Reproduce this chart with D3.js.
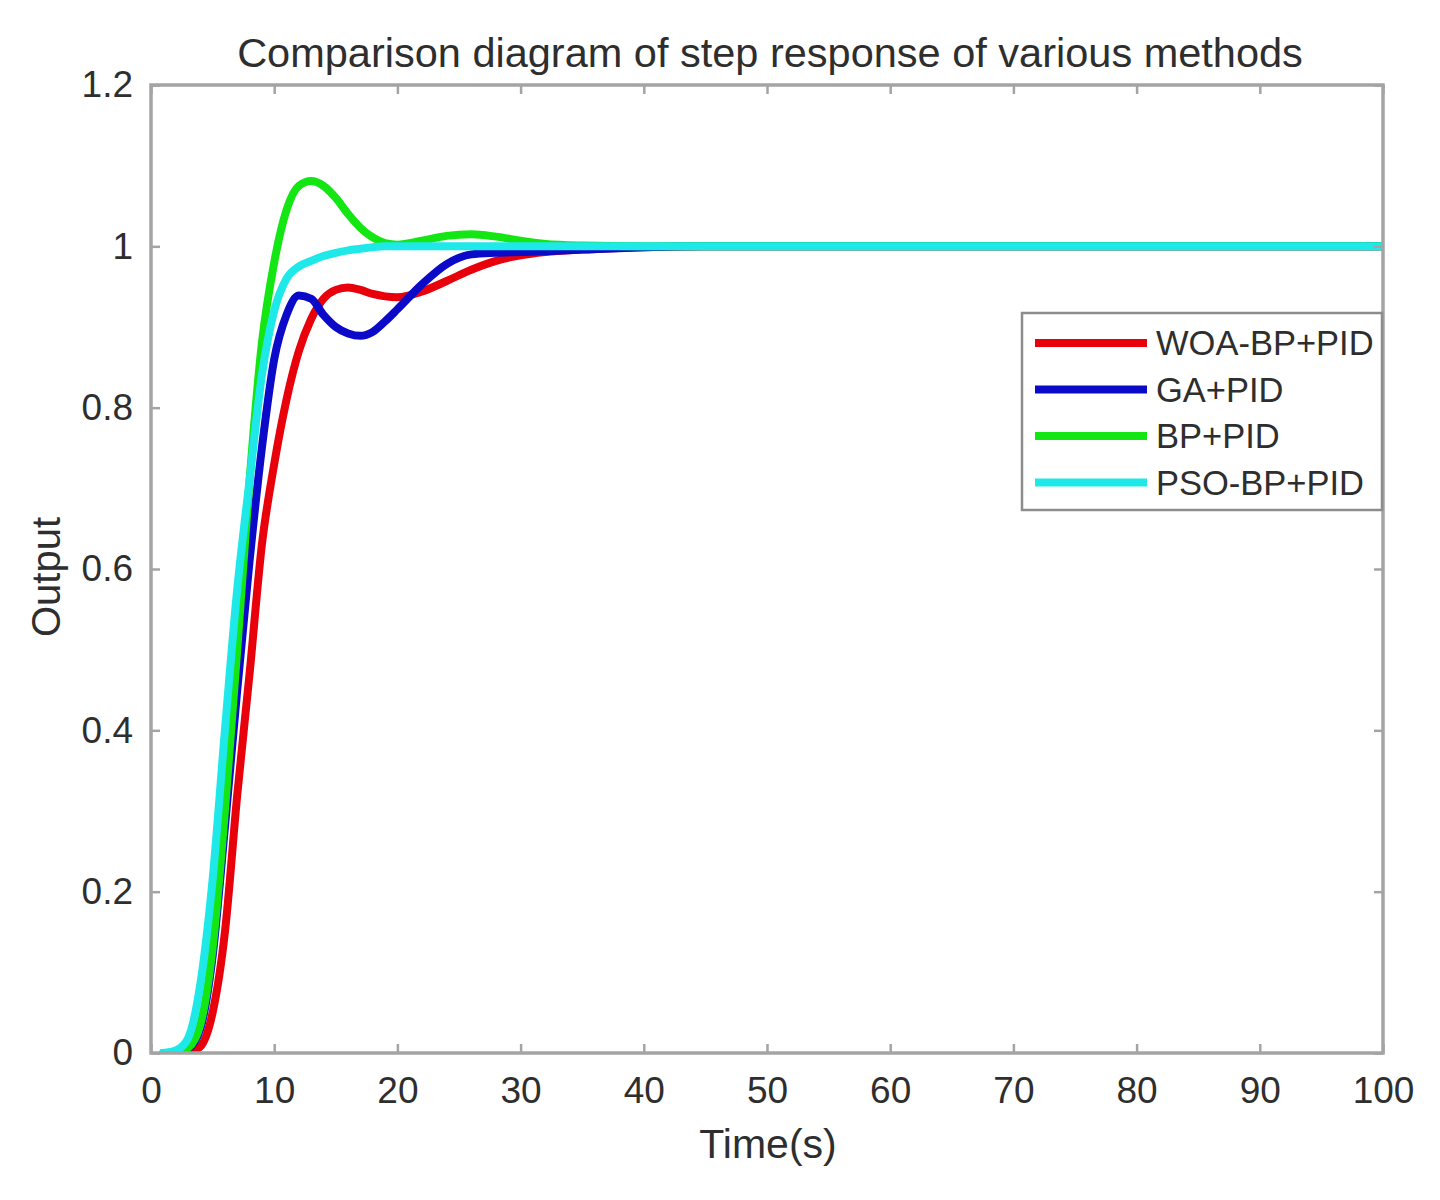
<!DOCTYPE html>
<html>
<head>
<meta charset="utf-8">
<script src="https://cdn.jsdelivr.net/npm/d3@7"></script>
<style>
  body { margin: 0; background: #fff; }
  svg { display: block; }
</style>
</head>
<body>
<div id="chart"></div>
<script>
// time grid (s)
const time = [1, 2, 3, 4, 5, 6, 7, 8, 9, 10, 11, 12, 13, 14, 15, 16, 17, 18, 19, 20,
  22, 24, 26, 28, 30, 32, 35, 40, 45, 50, 60, 70, 80, 90, 100];

const woaBp = [0, 0, 0.001, 0.008, 0.05, 0.15, 0.32, 0.47, 0.63, 0.73, 0.81, 0.87, 0.91, 0.935, 0.946, 0.949, 0.946, 0.941, 0.938, 0.937,
  0.944, 0.957, 0.971, 0.982, 0.989, 0.993, 0.996, 0.999, 1, 1, 1, 1, 1, 1, 1];
const ga = [0, 0, 0.005, 0.03, 0.12, 0.28, 0.45, 0.61, 0.75, 0.86, 0.915, 0.939, 0.935, 0.915, 0.9, 0.892, 0.889, 0.894, 0.907, 0.922,
  0.953, 0.978, 0.99, 0.992, 0.993, 0.994, 0.996, 0.999, 1, 1, 1, 1, 1, 1, 1];
const bp = [0, 0, 0.006, 0.035, 0.13, 0.3, 0.5, 0.71, 0.88, 0.98, 1.045, 1.075, 1.081, 1.075, 1.06, 1.04, 1.023, 1.011, 1.004, 1.002,
  1.007, 1.013, 1.015, 1.012, 1.007, 1.003, 1.001, 1, 1, 1, 1, 1, 1, 1, 1];
const psoBp = [0, 0.003, 0.018, 0.085, 0.215, 0.4, 0.575, 0.71, 0.84, 0.92, 0.96, 0.975, 0.982, 0.988, 0.992, 0.995, 0.997, 0.999, 1, 1,
  1, 1, 1, 1, 1, 1, 1, 1, 1, 1, 1, 1, 1, 1, 1];

const seriesNames = ["WOA-BP+PID", "GA+PID", "BP+PID", "PSO-BP+PID"];
const seriesColors = ["#e8000b", "#0a0ac8", "#14e614", "#1ee8e8"];
const seriesValues = [woaBp, ga, bp, psoBp];

const xTicks = [0, 10, 20, 30, 40, 50, 60, 70, 80, 90, 100];
const yTicks = [0, 0.2, 0.4, 0.6, 0.8, 1, 1.2];

const W = 1440, H = 1200;
const m = { left: 151, right: 57, top: 85, bottom: 147 };
const font = "'Liberation Sans', Arial, sans-serif";
const textColor = "#2e2e2e";
const frameColor = "#a4a4a4";

const svg = d3.select("#chart").append("svg")
  .attr("width", W).attr("height", H)
  .attr("viewBox", `0 0 ${W} ${H}`);
svg.append("rect").attr("width", W).attr("height", H).attr("fill", "#fff");

const x = d3.scaleLinear().domain([0, 100]).range([m.left, W - m.right]);
const y = d3.scaleLinear().domain([0, 1.2]).range([H - m.bottom, m.top]);

svg.append("clipPath").attr("id", "plot")
  .append("rect")
  .attr("x", m.left).attr("y", m.top)
  .attr("width", W - m.left - m.right).attr("height", H - m.top - m.bottom);

// lines
const line = d3.line()
  .x(d => x(d[0]))
  .y(d => y(d[1]))
  .curve(d3.curveMonotoneX);

const lines = svg.append("g").attr("clip-path", "url(#plot)");
seriesValues.forEach((vals, i) => {
  lines.append("path")
    .datum(time.map((t, j) => [t, vals[j]]))
    .attr("d", line)
    .attr("fill", "none")
    .attr("stroke", seriesColors[i])
    .attr("stroke-width", 8)
    .attr("stroke-linejoin", "round")
    .attr("stroke-linecap", "round");
});

// axes (ticks inward on all four sides, MATLAB box style)
function styleAxis(g, showLabels) {
  g.select(".domain").remove();
  g.selectAll(".tick line").attr("stroke", frameColor).attr("stroke-width", 2.5);
  g.selectAll(".tick text")
    .attr("fill", textColor)
    .style("font-family", font)
    .style("font-size", "37px");
  if (!showLabels) g.selectAll(".tick text").remove();
}

svg.append("g")
  .attr("transform", `translate(0,${H - m.bottom})`)
  .call(d3.axisBottom(x).tickValues(xTicks).tickSizeInner(-9).tickSizeOuter(0).tickPadding(24).tickFormat(d3.format("d")))
  .call(g => styleAxis(g, true));

svg.append("g")
  .attr("transform", `translate(0,${m.top})`)
  .call(d3.axisTop(x).tickValues(xTicks).tickSizeInner(-9).tickSizeOuter(0))
  .call(g => styleAxis(g, false));

svg.append("g")
  .attr("transform", `translate(${m.left},0)`)
  .call(d3.axisLeft(y).tickValues(yTicks).tickSizeInner(-9).tickSizeOuter(0).tickPadding(18).tickFormat(d => d3.format("~g")(d)))
  .call(g => styleAxis(g, true));

svg.append("g")
  .attr("transform", `translate(${W - m.right},0)`)
  .call(d3.axisRight(y).tickValues(yTicks).tickSizeInner(-9).tickSizeOuter(0))
  .call(g => styleAxis(g, false));

// frame
svg.append("rect")
  .attr("x", m.left).attr("y", m.top)
  .attr("width", W - m.left - m.right).attr("height", H - m.top - m.bottom)
  .attr("fill", "none")
  .attr("stroke", frameColor)
  .attr("stroke-width", 3.5);

// title and axis labels
svg.append("text")
  .attr("x", 770).attr("y", 67)
  .attr("text-anchor", "middle")
  .attr("fill", textColor)
  .style("font-family", font).style("font-size", "41.5px")
  .text("Comparison diagram of step response of various methods");

svg.append("text")
  .attr("x", 768).attr("y", 1158)
  .attr("text-anchor", "middle")
  .attr("fill", textColor)
  .style("font-family", font).style("font-size", "41px")
  .text("Time(s)");

svg.append("text")
  .attr("transform", `translate(60,${(m.top + H - m.bottom) / 2 + 8}) rotate(-90)`)
  .attr("text-anchor", "middle")
  .attr("fill", textColor)
  .style("font-family", font).style("font-size", "40px")
  .text("Output");

// legend
const lg = svg.append("g").attr("transform", "translate(1022,313)");
lg.append("rect")
  .attr("width", 360).attr("height", 197)
  .attr("fill", "#fff")
  .attr("stroke", "#8c8c8c").attr("stroke-width", 2.5);

seriesNames.forEach((name, i) => {
  const yy = 30 + i * 46.5;
  lg.append("line")
    .attr("x1", 13).attr("x2", 125)
    .attr("y1", yy).attr("y2", yy)
    .attr("stroke", seriesColors[i])
    .attr("stroke-width", 8);
  lg.append("text")
    .attr("x", 134).attr("y", yy)
    .attr("dy", "0.35em")
    .attr("fill", textColor)
    .style("font-family", font).style("font-size", "34.5px")
    .text(name);
});
</script>
</body>
</html>
